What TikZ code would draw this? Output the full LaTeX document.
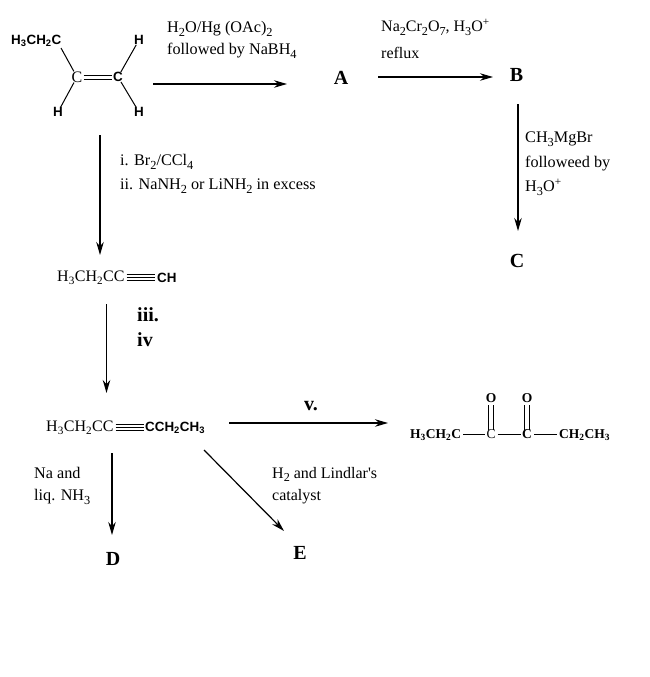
\documentclass[tikz,border=0pt]{standalone}
\usepackage{fontspec}
\setmainfont{Liberation Serif}
\setsansfont{Liberation Sans}
\usetikzlibrary{arrows.meta}
\newcommand{\Sb}[1]{\textsubscript{#1}}
\newcommand{\Sp}[1]{\textsuperscript{#1}}
\makeatletter
\newcommand{\Sl}[1]{\raisebox{-0.22em}{\fontsize{\strip@pt\dimexpr0.76\dimexpr\f@size pt\relax\relax}{1}\selectfont #1}}
\makeatother
\tikzset{
  x=1pt,y=-1pt,
  lab/.style={inner sep=0pt,anchor=west,font=\fontsize{16.2}{22}\selectfont,align=left},
  big/.style={inner sep=0pt,font=\fontsize{20}{22}\selectfont\bfseries},
  atom/.style={inner sep=0pt,font=\fontsize{13.4}{15}\selectfont\sffamily\bfseries},
  satom/.style={inner sep=0pt,font=\fontsize{16}{18}\selectfont},
  batom/.style={inner sep=0pt,font=\fontsize{13.5}{15}\selectfont\bfseries},
  rarrow/.style={draw=black,line width=1.2pt,-{Stealth[length=13pt,width=7.5pt]}},
  bond/.style={draw=black,line width=1pt},
}
\begin{document}
\begin{tikzpicture}
\useasboundingbox (0,0) rectangle (649,677);
% alkene
\node[atom,anchor=west] (ethyl) at (11,41) {H\Sb{3}CH\Sb{2}C};
\node[satom] (c1) at (77,77) {C};
\node[atom] (c2) at (118,77) {C};
\node[atom] (h1) at (139,40) {H};
\node[atom] (h2) at (58,112) {H};
\node[atom] (h3) at (139,112) {H};
\coordinate (ethb) at (61,48);
\draw[bond] (ethb) -- (c1);
\draw[bond] (c2) -- (h1);
\draw[bond] (c1) -- (h2);
\draw[bond] (c2) -- (h3);
\draw[bond] ([xshift=1pt,yshift=-2pt]c1.east) -- ([xshift=-1pt,yshift=-2pt]c2.west);
\draw[bond] ([xshift=1pt,yshift=2pt]c1.east) -- ([xshift=-1pt,yshift=2pt]c2.west);
% step labels
\node[lab,anchor=north west] (t1) at (167,21) {H\Sl{2}O/Hg (OAc)\Sl{2}\\followed by NaBH\Sl{4}};
\node[lab,anchor=north west,font=\fontsize{16}{22}\selectfont] (t2) at (381,19) {Na\Sl{2}Cr\Sl{2}O\Sl{7}, H\Sl{3}O\Sp{+}\\[5pt]reflux};
\node[big] (A) at (341,78) {A};
\node[big] (B) at (516.5,75) {B};
\node[big] (C) at (517,261) {C};
\coordinate (a1s) at (153,84);
\coordinate (a1e) at (287,84);
\coordinate (a2s) at (378,77);
\coordinate (a2e) at (493,77);
\draw[rarrow] (a1s) -- (a1e);
\draw[rarrow] (a2s) -- (a2e);
\node[lab,anchor=north west] (t3) at (525,132) {CH\Sl{3}MgBr\\[2.5pt]followeed by\\[2.5pt]H\Sl{3}O\Sp{+}};
\coordinate (a3s) at (518,104);
\coordinate (a3e) at (518,231);
\draw[rarrow] (a3s) -- (a3e);
\node[lab,anchor=north west] (t4) at (120,154) {i. Br\Sl{2}/CCl\Sl{4}\\[2pt]ii. NaNH\Sl{2} or LiNH\Sl{2} in excess};
\coordinate (a4s) at (100,135);
\coordinate (a4e) at (100,255);
\draw[rarrow] (a4s) -- (a4e);
% alkyne 1
\node[satom,anchor=west] (y1) at (57,278) {H\Sb{3}CH\Sb{2}CC};
\node[atom,anchor=west] (y1r) at (157,278) {CH};
\foreach \d in {-3,0,3}{\draw[bond] ([yshift=\d pt]y1.east) ++(2,-1) -- ++(28,0);}
\coordinate (a5s) at (106.5,304);
\coordinate (a5e) at (106.5,393);
\draw[rarrow] (a5s) -- (a5e);
\node[lab,anchor=north west,font=\fontsize{20}{25}\selectfont\bfseries] (t5) at (137,307) {iii.\\iv};
% alkyne 2
\node[satom,anchor=west] (y2) at (46,428) {H\Sb{3}CH\Sb{2}CC};
\node[atom,anchor=west] (y2r) at (145,428) {CCH\Sb{2}CH\Sb{3}};
\foreach \d in {-3,0,3}{\draw[bond] ([yshift=\d pt]y2.east) ++(2,-1) -- ++(28,0);}
\coordinate (a6s) at (229,423);
\coordinate (a6e) at (388,423);
\draw[rarrow] (a6s) -- (a6e);
\node[big] (v) at (311,406) {v.};
% diketone
\node[batom,anchor=west] (k1) at (410,435) {H\Sb{3}CH\Sb{2}C};
\node[satom,font=\fontsize{13.5}{15}\selectfont] (k2) at (491,434) {C};
\node[batom] (k3) at (527,434) {C};
\node[batom,anchor=west] (k4) at (559,435) {CH\Sb{2}CH\Sb{3}};
\node[batom] (o1) at (491,398) {O};
\node[batom] (o2) at (527,398) {O};
\draw[bond] (k2.west -| k1.east) ++(2,0) -- ([xshift=-1pt]k2.west);
\draw[bond] ([xshift=2pt]k2.east) -- ([xshift=-1pt]k3.west);
\draw[bond] ([xshift=2pt]k3.east) -- ([xshift=-2pt]k3.east -| k4.west);
\foreach \n/\m in {k2/o1,k3/o2}{
  \draw[bond] ([xshift=-2.5pt,yshift=-1pt]\n.north) -- ([xshift=-2.5pt,yshift=-2pt]\m.south);
  \draw[bond] ([xshift=2.5pt,yshift=-1pt]\n.north) -- ([xshift=2.5pt,yshift=-2pt]\m.south);
}
% bottom
\node[lab,anchor=north west] (t6) at (34,467) {Na and\\liq. NH\Sl{3}};
\node[lab,anchor=north west,font=\fontsize{16}{22}\selectfont] (t7) at (272,467) {H\Sl{2} and Lindlar\textquotesingle s\\catalyst};
\node[big] (D) at (113,559) {D};
\node[big] (E) at (300,553) {E};
\coordinate (a7s) at (112,453);
\coordinate (a7e) at (112,535);
\coordinate (a8s) at (204,450);
\coordinate (a8e) at (284,531);
\draw[rarrow] (a7s) -- (a7e);
\draw[rarrow] (a8s) -- (a8e);
\end{tikzpicture}
\end{document}
